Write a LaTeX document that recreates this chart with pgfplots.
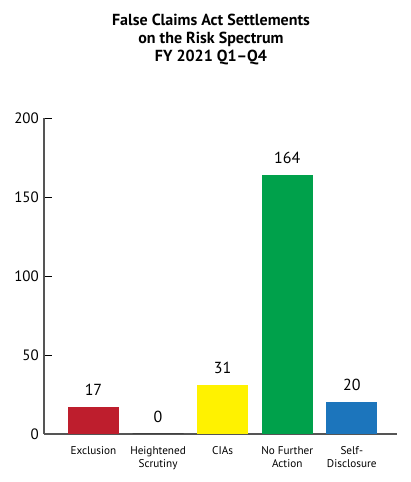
\documentclass[border=0pt]{standalone}
\usepackage{pgfplots}
\pgfplotsset{compat=1.18}
\usepackage{fontspec}
\setmainfont{PT Sans}

\definecolor{exclred}{HTML}{BE1E2D}
\definecolor{ciayellow}{HTML}{FFF200}
\definecolor{nfagreen}{HTML}{00A14B}
\definecolor{sdblue}{HTML}{1C75BC}
\definecolor{axisgray}{HTML}{555555}

\begin{document}
\begin{tikzpicture}
\useasboundingbox (0,0) rectangle (410pt,482pt);
\begin{axis}[
    at={(44pt,48pt)}, anchor=south west,
    scale only axis,
    width=353pt, height=316pt,
    ybar, bar width=0.79,
    xmin=-0.766, xmax=4.70,
    ymin=0, ymax=200,
    axis x line*=bottom, axis y line*=left,
    axis line style={axisgray, line width=1.2pt},
    ytick={0,50,100,150,200},
    xtick={0,1,2,3,4},
    xticklabels={Exclusion, Heightened\\Scrutiny, CIAs, No Further\\Action, Self-\\Disclosure},
    x tick style={draw=none},
    extra x ticks={4.70}, extra x tick labels={},
    extra x tick style={tick align=inside, major tick length=5pt, tick style={draw=axisgray, line width=1pt}},
    y tick style={black, line width=0.8pt},
    tick align=inside, major tick length=8pt,
    /pgf/number format/assume math mode=true,
    yticklabel style={font=\fontsize{15}{18}\selectfont, anchor=east, inner sep=0pt, xshift=-5pt},
    xticklabel style={font=\fontsize{11.2}{13}\selectfont, align=center, anchor=north, inner sep=0pt, yshift=-12pt},
    nodes near coords,
    every node near coord/.append style={font=\fontsize{16}{19}\selectfont, anchor=base, inner sep=0pt, yshift=11.5pt, black},
    title={\bfseries False Claims Act Settlements\\\bfseries on the Risk Spectrum\\\bfseries FY 2021 Q1--Q4},
    title style={font=\fontsize{16}{18.2}\selectfont, align=center, anchor=north, inner sep=0pt, at={(0.473,1)}, yshift=98.5pt},
    clip=false,
]
\addplot+[bar shift=0pt, fill=exclred, draw=none] coordinates {(0,17)};
\addplot+[bar shift=0pt, fill=black, draw=black!80, line width=1pt] coordinates {(1,0)};
\addplot+[bar shift=0pt, fill=ciayellow, draw=none] coordinates {(2,31)};
\addplot+[bar shift=0pt, fill=nfagreen, draw=none] coordinates {(3,164)};
\addplot+[bar shift=0pt, fill=sdblue, draw=none] coordinates {(4,20)};
\end{axis}
\end{tikzpicture}
\end{document}
